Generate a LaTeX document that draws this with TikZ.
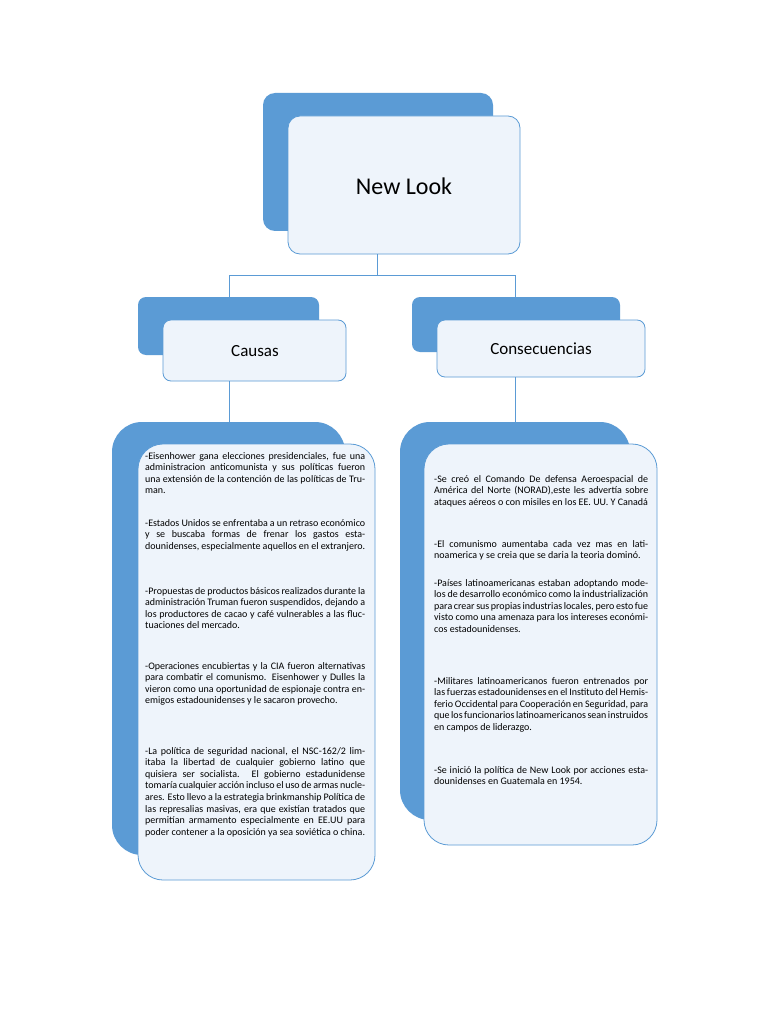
\documentclass[tikz,border=0pt]{standalone}
\usepackage{fontspec}
\setmainfont{Carlito}
\definecolor{bl}{HTML}{5B9BD5}
\definecolor{fr}{HTML}{EEF4FB}
\begin{document}
\begin{tikzpicture}[x=1pt,y=-1pt,
 back/.style={fill=bl,draw=none},
 front/.style={fill=fr,draw=bl,line width=0.8pt},
 conn/.style={draw=bl,line width=0.7pt},
 para/.style={anchor=north west,inner sep=0pt,align=justify,font=\fontsize{10}{11.6}\selectfont}]
\useasboundingbox (0,0) rectangle (768,1024);
\fill[white] (0,0) rectangle (768,1024);
% New Look
\path[back,rounded corners=12pt] (263,93) rectangle (493,231);
\path[front,rounded corners=12pt] (288,116) rectangle (520,254);
\node[font=\fontsize{24}{28}\selectfont] (nl) at (404,186) {New Look};
\coordinate (nlb) at (377,254);
% Causas
\path[back,rounded corners=8pt] (138,297) rectangle (319,355);
\path[front,rounded corners=8pt] (163,320) rectangle (346,381);
\node[font=\fontsize{17}{20}\selectfont] (ca) at (255,351) {Causas};
% Consecuencias
\path[back,rounded corners=8pt] (412,297) rectangle (620,352);
\path[front,rounded corners=8pt] (437,320) rectangle (645,377);
\node[font=\fontsize{17}{20}\selectfont] (co) at (541,349) {Consecuencias};
\coordinate (cat) at (229,297);
\coordinate (cot) at (515,297);
\coordinate (cab) at (229,381);
\coordinate (cob) at (515,377);
\coordinate (lt) at (229,422);
\coordinate (rt) at (515,422);
\draw[conn] (nlb) -- (377,275) -| (cat);
\draw[conn] (377,275) -| (cot);
\draw[conn] (cab) -- (lt);
\draw[conn] (cob) -- (rt);
% big boxes
\path[back,rounded corners=30pt] (112,422) rectangle (345,855);
\path[front,rounded corners=25pt] (138,444) rectangle (375,880);
\path[back,rounded corners=30pt] (400,422) rectangle (630,820);
\path[front,rounded corners=25pt] (424,444) rectangle (657,845);
% left texts
\node[para,text width=220pt] (l1) at (145,452) {-Eisenhower gana elecciones presidenciales, fue una administracion anticomunista y sus políticas fueron una extensión de la contención de las políticas de Truman.};
\node[para,text width=220pt] (l2) at (145,519) {-Estados Unidos se enfrentaba a un retraso económico y se buscaba formas de frenar los gastos estadounidenses, especialmente aquellos en el extranjero.};
\node[para,text width=220pt] (l3) at (145,587) {-Propuestas de productos básicos realizados durante la administración Truman fueron suspendidos, dejando a los productores de cacao y café vulnerables a las fluctuaciones del mercado.};
\node[para,text width=220pt] (l4) at (145,662) {-Operaciones encubiertas y la CIA fueron alternativas para combatir el comunismo. Eisenhower y Dulles la vieron como una oportunidad de espionaje contra enemigos estadounidenses y le sacaron provecho.};
\node[para,text width=220pt] (l5) at (145,747) {-La política de seguridad nacional, el NSC-162/2 limitaba la libertad de cualquier gobierno latino que quisiera ser socialista. El gobierno estadunidense tomaría cualquier acción incluso el uso de armas nucleares. Esto llevo a la estrategia brinkmanship Política de las represalias masivas, era que existían tratados que permitían armamento especialmente en EE.UU para poder contener a la oposición ya sea soviética o china.};
% right texts
\node[para,text width=214pt] (r1) at (434,475) {-Se creó el Comando De defensa Aeroespacial de América del Norte (NORAD),este les advertía sobre ataques aéreos o con misiles en los EE. UU. Y Canadá};
\node[para,text width=214pt] (r2) at (434,540) {-El comunismo aumentaba cada vez mas en latinoamerica y se creia que se daria la teoria dominó.};
\node[para,text width=214pt] (r3) at (434,579) {-Países latinoamericanas estaban adoptando modelos de desarrollo económico como la industrialización para crear sus propias industrias locales, pero esto fue visto como una amenaza para los intereses económicos estadounidenses.};
\node[para,text width=214pt] (r4) at (434,677) {-Militares latinoamericanos fueron entrenados por las fuerzas estadounidenses en el Instituto del Hemisferio Occidental para Cooperación en Seguridad, para que los funcionarios latinoamericanos sean instruidos en campos de liderazgo.};
\node[para,text width=214pt] (r5) at (434,766) {-Se inició la política de New Look por acciones estadounidenses en Guatemala en 1954.};
\end{tikzpicture}
\end{document}
